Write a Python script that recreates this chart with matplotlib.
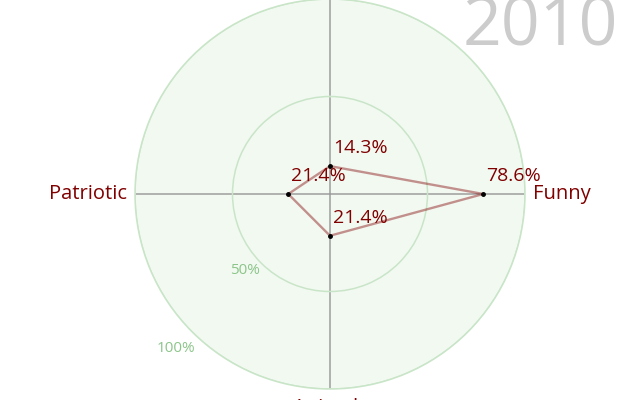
import numpy as np
import matplotlib
matplotlib.use('Agg')
import matplotlib.pyplot as plt

plt.rcParams['font.family'] = ['Open Sans', 'DejaVu Sans']

# categories clockwise from the top
categorias = ['Celebrity', 'Funny', 'Animals', 'Patriotic']
valores = [14.3, 78.6, 21.4, 21.4]
anio = '2010'
radial_ticks = [50, 100]
radial_labels = ['50%', '100%']

rojo = '#800000'
verde_fondo = '#f2f9f1'
verde_grid = '#c9e5c8'
verde_texto = '#8cc58a'

fig = plt.figure(figsize=(6.4, 4.0), dpi=100)
ax = fig.add_axes([135 / 640, 11 / 400, 390 / 640, 390 / 400], projection='polar')
ax.set_theta_zero_location('N')
ax.set_theta_direction(-1)
ax.set_facecolor(verde_fondo)
ax.set_ylim(0, 100)

angulos = np.linspace(0, 2 * np.pi, len(categorias), endpoint=False)
ax.set_xticks(angulos)
ax.set_xticklabels([])
ax.set_yticks(radial_ticks)
ax.set_yticklabels([])
ax.xaxis.grid(True, color='#9e9e9e', linewidth=1.1)
ax.yaxis.grid(True, color=verde_grid, linewidth=1.1)
ax.spines['polar'].set_color(verde_grid)
ax.spines['polar'].set_linewidth(1.1)

# polygon
ang_c = np.append(angulos, angulos[0])
val_c = valores + valores[:1]
ax.plot(ang_c, val_c, color=rojo, alpha=0.42, linewidth=1.7, zorder=3)
ax.plot(angulos, valores, 'o', color='black', markersize=2.5, zorder=4)

# value labels
for a, v in zip(angulos, valores):
    ax.annotate(f'{v}%', xy=(a, v), xytext=(3, 13), textcoords='offset pixels',
                ha='left', va='baseline', color=rojo, fontsize=14, zorder=5)

# category labels (top and bottom ones fall past the figure edge)
alineacion = {0: ('center', 'bottom', 107), 1: ('left', 'center', 104),
              2: ('center', 'top', 104.8), 3: ('right', 'center', 104)}
for i, (a, c) in enumerate(zip(angulos, categorias)):
    ha, va, r = alineacion[i]
    ax.text(a, r, c, ha=ha, va=va, color=rojo, fontsize=14.5)

# radial tick labels
for lab, ang, r in zip(radial_labels, [228, 225], [59, 112]):
    ax.text(np.deg2rad(ang), r, lab, ha='center', va='center',
            color=verde_texto, fontsize=11)

fig.text(618 / 640, 355 / 400, anio, ha='right', va='baseline',
         color='#cccccc', fontsize=49)

fig.savefig('out.png', dpi=100)
